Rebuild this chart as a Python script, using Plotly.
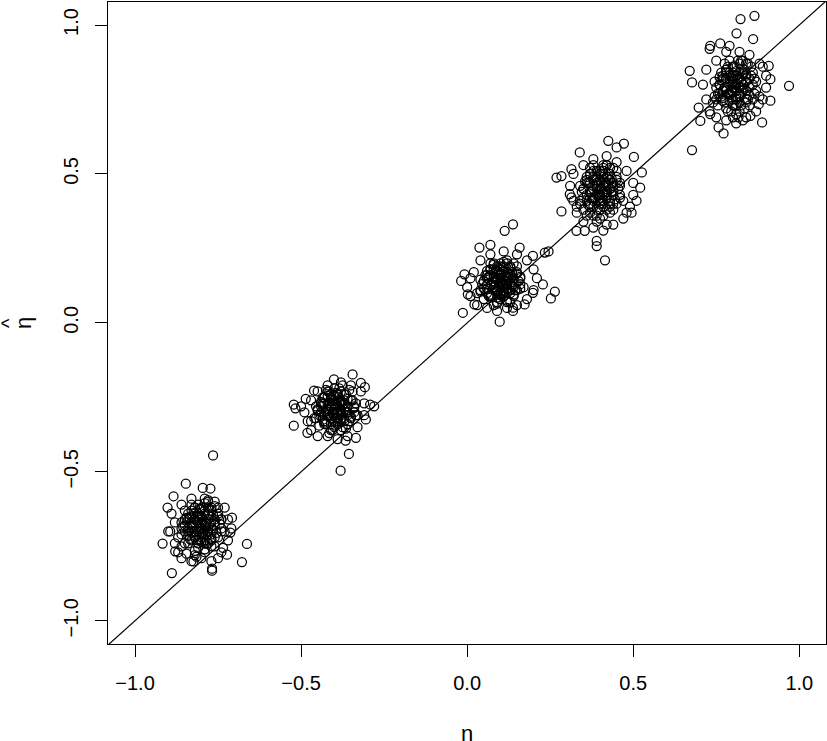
import plotly.graph_objects as go

# ---- data: true eta (x) vs estimated eta-hat (y), five groups ----
eta_g1 = [-0.80,-0.78,-0.83,-0.76,-0.82,-0.79,-0.85,-0.77,-0.81,-0.74,-0.84,-0.80,-0.78,-0.86,-0.75,-0.82,-0.79,-0.83,-0.77,-0.81,
          -0.80,-0.84,-0.76,-0.78,-0.82,-0.73,-0.87,-0.79,-0.81,-0.77,-0.85,-0.80,-0.83,-0.75,-0.79,-0.82,-0.78,-0.76,-0.84,-0.80,
          -0.81,-0.86,-0.74,-0.79,-0.83,-0.77,-0.80,-0.82,-0.78,-0.85,
          -0.79,-0.81,-0.80,-0.78,-0.82,-0.80,-0.79,-0.81,-0.77,-0.83,-0.80,-0.78,-0.82,-0.79,-0.81,-0.76,-0.84,-0.80,-0.78,-0.82,
          -0.79,-0.81,-0.80,-0.77,-0.83,-0.785,-0.815,-0.795,-0.805,-0.775,-0.825,-0.765,-0.835,-0.80,-0.79,-0.81,-0.78,-0.82,-0.80,-0.79,
          -0.84,-0.76,-0.85,-0.75,-0.83,-0.77,-0.86,-0.74,-0.82,-0.78,-0.845,-0.755,-0.835,-0.765,-0.855,-0.745,-0.80,-0.80,-0.81,-0.79,
          -0.83,-0.77,-0.84,-0.76,-0.82,-0.78,-0.86,-0.74,-0.85,-0.75,
          -0.89,-0.88,-0.90,-0.88,-0.87,-0.86,-0.83,-0.80,-0.77,-0.74,-0.72,-0.71,-0.72,-0.73,-0.76,-0.79,-0.83,-0.86,-0.845,-0.815,-0.75,-0.735,
          -0.765,-0.847,-0.796,-0.773,-0.884,-0.902,-0.917,-0.663,-0.678,-0.889,-0.768,-0.768,-0.723,-0.708,-0.894,-0.879,-0.824,-0.713]
eta_hat_g1 = [-0.67,-0.64,-0.70,-0.68,-0.62,-0.73,-0.66,-0.71,-0.65,-0.66,-0.74,-0.69,-0.60,-0.69,-0.72,-0.67,-0.76,-0.63,-0.65,-0.70,
              -0.62,-0.66,-0.75,-0.69,-0.78,-0.70,-0.72,-0.64,-0.74,-0.62,-0.63,-0.71,-0.68,-0.64,-0.68,-0.72,-0.74,-0.66,-0.70,-0.65,
              -0.61,-0.75,-0.69,-0.77,-0.65,-0.73,-0.69,-0.66,-0.71,-0.68,
              -0.68,-0.67,-0.69,-0.66,-0.70,-0.65,-0.71,-0.64,-0.69,-0.67,-0.72,-0.70,-0.66,-0.63,-0.73,-0.67,-0.69,-0.675,-0.645,-0.715,
              -0.695,-0.655,-0.735,-0.725,-0.705,-0.685,-0.665,-0.705,-0.625,-0.675,-0.685,-0.695,-0.655,-0.66,-0.74,-0.70,-0.62,-0.64,-0.70,-0.67,
              -0.64,-0.72,-0.70,-0.65,-0.73,-0.63,-0.67,-0.70,-0.62,-0.74,-0.655,-0.705,-0.725,-0.645,-0.685,-0.675,-0.625,-0.735,-0.755,-0.605,
              -0.61,-0.75,-0.715,-0.615,-0.765,-0.595,-0.71,-0.66,-0.74,-0.62,
              -0.64,-0.67,-0.70,-0.74,-0.77,-0.79,-0.80,-0.79,-0.80,-0.77,-0.73,-0.69,-0.66,-0.62,-0.60,-0.59,-0.59,-0.61,-0.775,-0.785,-0.79,-0.755,
              -0.445,-0.540,-0.554,-0.556,-0.582,-0.620,-0.741,-0.742,-0.803,-0.840,-0.832,-0.825,-0.778,-0.654,-0.700,-0.767,-0.801,-0.704]

eta_g2 = [-0.40,-0.38,-0.42,-0.36,-0.41,-0.39,-0.44,-0.37,-0.40,-0.34,-0.43,-0.39,-0.38,-0.45,-0.35,-0.41,-0.40,-0.43,-0.37,-0.42,
          -0.39,-0.44,-0.36,-0.38,-0.41,-0.33,-0.46,-0.39,-0.40,-0.37,-0.43,-0.40,-0.42,-0.35,-0.38,-0.41,-0.39,-0.36,-0.44,-0.40,
          -0.42,-0.47,-0.34,-0.38,-0.43,-0.37,-0.40,-0.41,-0.39,-0.45,
          -0.40,-0.39,-0.41,-0.38,-0.42,-0.40,-0.37,-0.43,-0.39,-0.41,-0.36,-0.44,-0.40,-0.38,-0.42,-0.395,-0.405,-0.385,-0.415,-0.375,
          -0.425,-0.40,-0.39,-0.41,-0.38,-0.42,-0.365,-0.435,-0.40,-0.39,-0.41,-0.37,-0.43,-0.40,-0.38,-0.42,-0.39,-0.41,-0.40,-0.36,
          -0.435,-0.355,-0.445,-0.345,-0.425,-0.365,-0.455,-0.335,-0.415,-0.375,-0.44,-0.35,-0.43,-0.36,-0.45,-0.34,-0.395,-0.395,-0.405,-0.385,
          -0.425,-0.365,-0.435,-0.355,-0.415,-0.375,-0.455,-0.335,-0.445,-0.345,
          -0.49,-0.48,-0.47,-0.45,-0.42,-0.39,-0.36,-0.33,-0.31,-0.31,-0.32,-0.35,-0.38,-0.42,-0.45,-0.47,-0.50,
          -0.345,-0.308,-0.461,-0.486,-0.522,-0.517,-0.522,-0.280,-0.292,-0.356,-0.381,-0.335,-0.481,-0.366,-0.320,-0.401,-0.305]
eta_hat_g2 = [-0.29,-0.26,-0.31,-0.30,-0.24,-0.33,-0.28,-0.32,-0.27,-0.28,-0.34,-0.30,-0.23,-0.29,-0.32,-0.28,-0.35,-0.25,-0.27,-0.31,
              -0.24,-0.27,-0.34,-0.30,-0.36,-0.31,-0.32,-0.26,-0.33,-0.24,-0.25,-0.31,-0.29,-0.26,-0.29,-0.32,-0.34,-0.28,-0.30,-0.27,
              -0.23,-0.33,-0.30,-0.36,-0.27,-0.33,-0.30,-0.28,-0.32,-0.29,
              -0.29,-0.30,-0.28,-0.31,-0.27,-0.26,-0.29,-0.30,-0.32,-0.25,-0.28,-0.31,-0.33,-0.27,-0.29,-0.285,-0.305,-0.265,-0.315,-0.275,
              -0.295,-0.245,-0.335,-0.255,-0.325,-0.305,-0.30,-0.27,-0.31,-0.28,-0.32,-0.26,-0.33,-0.275,-0.295,-0.245,-0.24,-0.34,-0.22,-0.31,
              -0.25,-0.33,-0.31,-0.26,-0.34,-0.24,-0.28,-0.31,-0.23,-0.35,-0.265,-0.315,-0.335,-0.255,-0.295,-0.285,-0.235,-0.345,-0.36,-0.22,
              -0.225,-0.355,-0.325,-0.225,-0.37,-0.21,-0.32,-0.27,-0.345,-0.23,
              -0.30,-0.33,-0.36,-0.38,-0.38,-0.39,-0.38,-0.35,-0.31,-0.27,-0.23,-0.21,-0.20,-0.21,-0.23,-0.26,-0.28,
              -0.173,-0.216,-0.227,-0.255,-0.274,-0.287,-0.345,-0.280,-0.274,-0.440,-0.496,-0.386,-0.369,-0.395,-0.201,-0.190,-0.324]

eta_g3 = [0.10,0.12,0.08,0.14,0.09,0.11,0.06,0.13,0.10,0.16,0.07,0.11,0.12,0.05,0.15,0.09,0.10,0.07,0.13,0.08,
          0.11,0.06,0.14,0.12,0.09,0.17,0.04,0.11,0.10,0.13,0.07,0.10,0.08,0.15,0.12,0.09,0.11,0.14,0.06,0.10,
          0.08,0.03,0.16,0.12,0.07,0.13,0.10,0.09,0.11,0.05,
          0.10,0.11,0.09,0.12,0.08,0.10,0.13,0.07,0.11,0.09,0.14,0.06,0.10,0.12,0.08,0.105,0.095,0.115,0.085,0.125,
          0.075,0.10,0.11,0.09,0.12,0.08,0.135,0.065,0.10,0.11,0.09,0.13,0.07,0.10,0.12,0.08,0.11,0.09,0.10,0.14,
          0.06,0.14,0.05,0.15,0.07,0.13,0.04,0.16,0.08,0.12,0.055,0.145,0.065,0.135,0.045,0.155,0.10,0.10,0.09,0.11,
          0.07,0.13,0.06,0.14,0.08,0.12,0.04,0.16,0.05,0.15,
          0.00,0.01,0.03,0.06,0.09,0.12,0.15,0.18,0.20,0.21,0.20,0.18,0.15,0.11,0.07,0.04,0.02,0.01,
          0.138,0.113,0.037,0.070,0.158,0.234,0.198,-0.008,-0.018,0.228,0.264,0.252,-0.013,0.098,0.138,0.138,0.198,0.022,0.173,0.002]
eta_hat_g3 = [0.14,0.17,0.12,0.13,0.19,0.10,0.15,0.11,0.16,0.15,0.09,0.13,0.20,0.14,0.11,0.15,0.08,0.18,0.16,0.12,
              0.19,0.16,0.09,0.13,0.07,0.12,0.11,0.17,0.10,0.19,0.18,0.12,0.14,0.17,0.14,0.11,0.09,0.15,0.13,0.16,
              0.20,0.10,0.13,0.07,0.16,0.10,0.13,0.15,0.11,0.14,
              0.135,0.125,0.145,0.115,0.155,0.165,0.135,0.125,0.105,0.175,0.145,0.115,0.095,0.155,0.135,0.14,0.12,0.16,0.11,0.15,
              0.13,0.18,0.09,0.17,0.10,0.12,0.125,0.155,0.115,0.145,0.105,0.165,0.095,0.15,0.13,0.18,0.185,0.085,0.20,0.12,
              0.175,0.095,0.115,0.165,0.085,0.185,0.145,0.115,0.195,0.075,0.16,0.11,0.09,0.17,0.13,0.14,0.19,0.08,0.065,0.205,
              0.20,0.07,0.10,0.20,0.06,0.21,0.105,0.155,0.08,0.19,
              0.12,0.09,0.06,0.05,0.04,0.05,0.06,0.08,0.11,0.15,0.18,0.21,0.23,0.24,0.23,0.21,0.17,0.15,
              0.331,0.309,0.253,0.262,0.253,0.236,0.225,0.163,0.141,0.129,0.105,0.082,0.034,0.004,0.040,0.051,0.101,0.062,0.062,0.096]

eta_g4 = [0.40,0.42,0.38,0.44,0.39,0.41,0.36,0.43,0.40,0.46,0.37,0.41,0.42,0.35,0.45,0.39,0.40,0.37,0.43,0.38,
          0.41,0.36,0.44,0.42,0.39,0.47,0.34,0.41,0.40,0.43,0.37,0.40,0.38,0.45,0.42,0.39,0.41,0.44,0.36,0.40,
          0.38,0.33,0.46,0.42,0.37,0.43,0.40,0.39,0.41,0.35,
          0.41,0.40,0.38,0.42,0.39,0.41,0.43,0.37,0.40,0.38,0.44,0.37,0.41,0.42,0.39,0.405,0.395,0.415,0.385,0.425,
          0.375,0.41,0.40,0.38,0.43,0.39,0.435,0.365,0.40,0.42,0.38,0.43,0.37,0.41,0.42,0.39,0.40,0.38,0.41,0.44,
          0.36,0.44,0.35,0.45,0.37,0.43,0.34,0.46,0.38,0.42,0.355,0.445,0.365,0.435,0.345,0.455,0.40,0.40,0.39,0.41,
          0.37,0.43,0.36,0.44,0.38,0.42,0.34,0.46,0.35,0.45,
          0.31,0.32,0.33,0.35,0.38,0.41,0.44,0.47,0.49,0.50,0.50,0.48,0.45,0.42,0.38,0.35,0.32,0.51,0.48,0.36,
          0.425,0.450,0.472,0.502,0.339,0.314,0.269,0.284,0.284,0.495,0.526,0.521,0.390,0.390,0.415,0.245,0.329,0.354,0.314,0.309]
eta_hat_g4 = [0.45,0.49,0.42,0.44,0.51,0.39,0.47,0.40,0.48,0.46,0.37,0.44,0.53,0.45,0.40,0.47,0.35,0.50,0.48,0.42,
              0.52,0.48,0.38,0.43,0.34,0.41,0.40,0.49,0.38,0.52,0.50,0.41,0.45,0.49,0.44,0.38,0.36,0.47,0.43,0.48,
              0.53,0.39,0.43,0.33,0.47,0.39,0.43,0.46,0.41,0.45,
              0.44,0.43,0.46,0.42,0.47,0.48,0.45,0.44,0.41,0.49,0.46,0.42,0.40,0.47,0.45,0.45,0.43,0.47,0.42,0.46,
              0.44,0.50,0.40,0.48,0.41,0.43,0.44,0.47,0.42,0.46,0.41,0.48,0.40,0.46,0.44,0.49,0.50,0.39,0.51,0.43,
              0.49,0.40,0.42,0.48,0.39,0.50,0.46,0.42,0.51,0.38,0.475,0.415,0.395,0.485,0.44,0.45,0.51,0.38,0.36,0.53,
              0.52,0.37,0.41,0.52,0.36,0.53,0.41,0.47,0.38,0.51,
              0.46,0.41,0.37,0.34,0.32,0.31,0.33,0.35,0.39,0.43,0.47,0.51,0.54,0.56,0.55,0.53,0.50,0.41,0.37,0.36,
              0.611,0.589,0.602,0.557,0.572,0.516,0.488,0.493,0.374,0.370,0.505,0.454,0.275,0.258,0.210,0.240,0.309,0.309,0.421,0.432]

eta_g5 = [0.81,0.83,0.79,0.85,0.80,0.82,0.77,0.84,0.81,0.87,0.78,0.82,0.83,0.76,0.86,0.80,0.81,0.78,0.84,0.79,
          0.82,0.77,0.85,0.83,0.80,0.88,0.75,0.82,0.81,0.84,0.78,0.81,0.79,0.86,0.83,0.80,0.82,0.85,0.77,0.81,
          0.79,0.74,0.87,0.83,0.78,0.84,0.81,0.80,0.82,0.76,
          0.80,0.81,0.79,0.82,0.78,0.80,0.83,0.77,0.81,0.79,0.84,0.76,0.80,0.82,0.78,0.805,0.795,0.815,0.785,0.825,
          0.775,0.80,0.81,0.79,0.82,0.78,0.835,0.765,0.80,0.81,0.79,0.83,0.77,0.80,0.82,0.78,0.81,0.79,0.80,0.84,
          0.765,0.845,0.755,0.855,0.775,0.835,0.745,0.865,0.785,0.825,0.76,0.85,0.77,0.84,0.75,0.86,0.805,0.805,0.795,0.815,
          0.775,0.835,0.765,0.845,0.785,0.825,0.745,0.865,0.755,0.855,
          0.71,0.72,0.73,0.75,0.78,0.81,0.84,0.87,0.89,0.90,0.90,0.88,0.85,0.82,0.78,0.75,0.72,0.73,0.79,0.89,
          0.823,0.865,0.811,0.861,0.732,0.762,0.670,0.677,0.969,0.913,0.888,0.702,0.757,0.772,0.677,0.908,0.913,0.878,0.817,0.853,0.732,0.697]
eta_hat_g5 = [0.80,0.84,0.77,0.79,0.86,0.74,0.82,0.75,0.83,0.81,0.72,0.79,0.88,0.80,0.75,0.82,0.70,0.85,0.83,0.77,
              0.87,0.83,0.73,0.78,0.69,0.76,0.75,0.84,0.73,0.87,0.85,0.76,0.80,0.84,0.79,0.73,0.71,0.82,0.78,0.83,
              0.88,0.74,0.78,0.68,0.82,0.74,0.78,0.81,0.76,0.80,
              0.79,0.78,0.81,0.77,0.82,0.83,0.80,0.78,0.76,0.84,0.81,0.77,0.75,0.82,0.79,0.80,0.78,0.82,0.77,0.81,
              0.79,0.84,0.75,0.83,0.76,0.78,0.785,0.815,0.775,0.805,0.765,0.835,0.755,0.81,0.79,0.84,0.845,0.745,0.86,0.78,
              0.84,0.75,0.77,0.83,0.74,0.85,0.81,0.77,0.86,0.73,0.825,0.765,0.745,0.835,0.79,0.80,0.86,0.73,0.71,0.88,
              0.87,0.72,0.76,0.87,0.71,0.88,0.76,0.82,0.73,0.86,
              0.80,0.75,0.71,0.69,0.68,0.67,0.69,0.71,0.75,0.79,0.83,0.87,0.90,0.91,0.91,0.88,0.85,0.92,0.93,0.86,
              1.020,1.031,0.972,0.953,0.930,0.938,0.846,0.807,0.796,0.746,0.673,0.678,0.656,0.636,0.580,0.863,0.818,0.734,0.690,0.695,0.701,0.723]

tick_vals = [-1.0, -0.5, 0.0, 0.5, 1.0]
tick_text = ["\u22121.0", "\u22120.5", "0.0", "0.5", "1.0"]
diag = [-1.5, 1.5]

eta = eta_g1 + eta_g2 + eta_g3 + eta_g4 + eta_g5
eta_hat = eta_hat_g1 + eta_hat_g2 + eta_hat_g3 + eta_hat_g4 + eta_hat_g5

FONT = "Liberation Sans, Arial, Helvetica, sans-serif"

fig = go.Figure()
fig.add_trace(go.Scatter(
    x=eta, y=eta_hat, mode="markers",
    marker=dict(symbol="circle-open", size=9, color="black", line=dict(width=1.25, color="black")),
    showlegend=False, hoverinfo="x+y"))
fig.add_trace(go.Scatter(
    x=diag, y=diag, mode="lines", line=dict(color="black", width=1.2),
    showlegend=False, hoverinfo="skip"))

axis_common = dict(
    tickvals=tick_vals, ticktext=tick_text, ticks="outside", ticklen=12, tickwidth=1,
    tickcolor="black", showline=True, mirror=True, linecolor="black", linewidth=1.2,
    showgrid=False, zeroline=False, automargin=False,
    tickfont=dict(family=FONT, size=20, color="black"),
)
fig.update_xaxes(range=[-1.0813, 1.0804], ticklabelstandoff=9, **axis_common)
fig.update_yaxes(range=[-1.078, 1.0772], tickangle=-90, ticklabelstandoff=9, **axis_common)

fig.update_layout(
    width=827, height=741,
    margin=dict(l=108, r=1, t=2, b=97),
    plot_bgcolor="white", paper_bgcolor="white",
    font=dict(family=FONT, size=20, color="black"),
    annotations=[
        dict(text="\u03b7", xref="paper", yref="paper", x=0.5, y=0, xanchor="center",
             yanchor="middle", yshift=-89, showarrow=False, font=dict(family=FONT, size=22)),
        dict(text="\u03b7", xref="paper", yref="paper", x=0, y=0.5, xanchor="center",
             yanchor="middle", xshift=-85, textangle=-90, showarrow=False, font=dict(family=FONT, size=22)),
        dict(text="^", xref="paper", yref="paper", x=0, y=0.5, xanchor="center",
             yanchor="middle", xshift=-99, textangle=-90, showarrow=False, font=dict(family=FONT, size=20)),
    ],
)

fig.write_html("out.html", config={"displayModeBar": False},
               post_script="document.body.style.margin='0';document.body.style.overflow='hidden';")
